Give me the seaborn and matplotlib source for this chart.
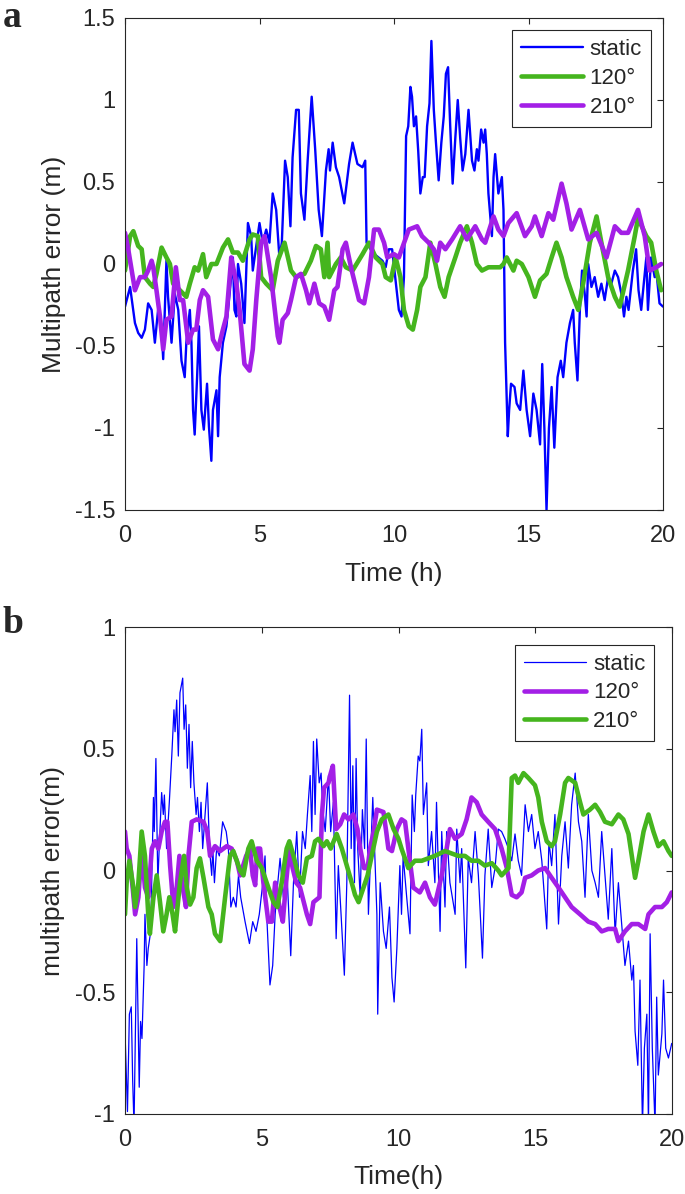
import matplotlib
matplotlib.use('Agg')
import matplotlib.pyplot as plt
import pandas as pd
import seaborn as sns
from matplotlib.ticker import FuncFormatter

# panel a: (time h, error m)
a_static = [(0, -0.26), (0.19, -0.14), (0.37, -0.36), (0.49, -0.42), (0.62, -0.45), (0.74, -0.40), (0.86, -0.24),
            (0.99, -0.28), (1.11, -0.48), (1.23, -0.28), (1.36, -0.40), (1.42, -0.58), (1.48, -0.28), (1.54, 0.02),
            (1.6, -0.2), (1.73, -0.48), (1.85, -0.18), (1.98, -0.28), (2.1, -0.59), (2.22, -0.69), (2.28, -0.48),
            (2.41, -0.28), (2.47, -0.48), (2.53, -0.89), (2.59, -1.04), (2.68, -0.69), (2.75, -0.38), (2.84, -0.89),
            (2.93, -1.01), (3.05, -0.73), (3.12, -0.99), (3.21, -1.2), (3.27, -0.89), (3.4, -0.77), (3.46, -1.05),
            (3.52, -0.69), (3.64, -0.48), (3.77, -0.38), (3.89, -0.18), (4.01, 0.04), (4.07, -0.28), (4.14, -0.32),
            (4.2, 0.0), (4.32, -0.12), (4.44, -0.36), (4.57, 0.25), (4.69, 0.17), (4.75, -0.04), (5.0, 0.25),
            (5.12, 0.13), (5.25, 0.21), (5.37, 0.13), (5.49, 0.43), (5.62, 0.33), (5.74, 0.04), (5.83, 0.13),
            (5.95, 0.63), (6.05, 0.53), (6.15, 0.23), (6.23, 0.65), (6.36, 0.94), (6.46, 0.94), (6.54, 0.43),
            (6.67, 0.27), (6.79, 0.63), (6.94, 1.02), (7.07, 0.7), (7.2, 0.33), (7.32, 0.17), (7.47, 0.57),
            (7.57, 0.7), (7.62, 0.57), (7.72, 0.74), (7.84, 0.59), (7.96, 0.53), (8.15, 0.37), (8.33, 0.61),
            (8.46, 0.74), (8.64, 0.61), (8.83, 0.59), (8.93, 0.63), (8.98, 0.13), (9.2, 0.07), (9.57, 0.02),
            (9.69, -0.02), (9.81, 0.09), (9.93, 0.09), (10.18, -0.28), (10.28, -0.32), (10.37, -0.08), (10.45, 0.78),
            (10.53, 0.84), (10.61, 1.08), (10.67, 1.02), (10.74, 0.84), (10.82, 0.9), (10.9, 0.69), (10.98, 0.43),
            (11.07, 0.53), (11.14, 0.53), (11.23, 0.84), (11.32, 0.98), (11.39, 1.36), (11.48, 0.94), (11.56, 0.74),
            (11.66, 0.51), (11.76, 0.74), (11.85, 0.9), (11.93, 1.16), (12.01, 1.2), (12.09, 0.84), (12.18, 0.49),
            (12.28, 0.77), (12.37, 1.0), (12.46, 0.77), (12.55, 0.57), (12.65, 0.67), (12.77, 0.94), (12.9, 0.63),
            (12.99, 0.57), (13.08, 0.7), (13.14, 0.63), (13.24, 0.82), (13.33, 0.74), (13.39, 0.82), (13.45, 0.67),
            (13.51, 0.43), (13.58, 0.29), (13.64, 0.17), (13.7, 0.53), (13.76, 0.67), (13.88, 0.43), (14.01, 0.53),
            (14.07, 0.33), (14.13, -0.48), (14.23, -1.05), (14.28, -0.89), (14.35, -0.73), (14.48, -0.75),
            (14.56, -0.85), (14.69, -0.89), (14.81, -0.65), (14.93, -0.89), (15.06, -1.05), (15.18, -0.79),
            (15.3, -0.89), (15.43, -1.1), (15.51, -0.61), (15.59, -1.0), (15.67, -1.5), (15.76, -1.0), (15.86, -0.75),
            (15.96, -1.12), (16.08, -0.69), (16.2, -0.59), (16.29, -0.69), (16.41, -0.48), (16.54, -0.36),
            (16.66, -0.28), (16.72, -0.48), (16.82, -0.71), (16.91, -0.28), (16.99, -0.04), (17.09, -0.18),
            (17.16, -0.32), (17.22, 0.0), (17.34, -0.14), (17.46, -0.08), (17.59, -0.2), (17.71, -0.12),
            (17.83, -0.22), (17.96, -0.08), (18.08, -0.12), (18.21, -0.04), (18.33, -0.08), (18.45, -0.18),
            (18.55, -0.32), (18.64, -0.2), (18.72, -0.28), (18.88, -0.04), (19.0, 0.09), (19.09, -0.16),
            (19.19, -0.28), (19.25, -0.18), (19.38, 0.04), (19.44, -0.28), (19.56, 0.04), (19.69, -0.08),
            (19.75, -0.04), (19.87, -0.24), (20.0, -0.26)]

a_120 = [(0, -0.04), (0.19, 0.17), (0.31, 0.2), (0.49, 0.11), (0.62, 0.09), (0.74, -0.08), (0.93, -0.12),
         (1.05, -0.14), (1.17, -0.06), (1.36, 0.1), (1.54, 0.04), (1.67, 0.0), (1.79, -0.12), (2.04, -0.16),
         (2.28, -0.2), (2.41, -0.12), (2.59, -0.02), (2.72, -0.04), (2.9, 0.06), (3.02, -0.08), (3.21, 0.0),
         (3.4, 0.0), (3.64, 0.1), (3.83, 0.15), (4.01, 0.07), (4.2, 0.07), (4.38, 0.02), (4.63, 0.15), (4.75, 0.18),
         (4.94, 0.17), (5.06, -0.08), (5.25, -0.12), (5.49, -0.16), (5.68, 0.02), (5.93, 0.13), (6.17, -0.04),
         (6.36, -0.08), (6.67, -0.06), (6.91, 0.02), (7.1, 0.11), (7.28, 0.09), (7.41, -0.08), (7.53, 0.13),
         (7.59, -0.08), (7.84, 0.0), (8.02, 0.04), (8.21, -0.02), (8.46, -0.04), (8.83, 0.06), (9.07, 0.13),
         (9.32, 0.04), (9.57, 0.0), (9.69, -0.08), (9.88, -0.1), (10.06, 0.04), (10.24, -0.08), (10.37, -0.28),
         (10.55, -0.38), (10.7, -0.4), (10.86, -0.28), (10.98, -0.14), (11.17, -0.08), (11.35, 0.13), (11.54, 0.0),
         (11.72, -0.14), (11.88, -0.2), (12.03, -0.08), (12.28, 0.04), (12.46, 0.13), (12.71, 0.23), (12.9, 0.13),
         (13.08, 0.0), (13.27, -0.04), (13.51, -0.02), (13.76, -0.02), (13.95, -0.02), (14.07, 0.0), (14.19, 0.04),
         (14.44, -0.04), (14.56, 0.02), (14.75, 0.0), (15.0, -0.08), (15.24, -0.2), (15.43, -0.1), (15.67, -0.06),
         (15.86, 0.04), (16.04, 0.13), (16.23, 0.04), (16.41, -0.08), (16.66, -0.2), (16.85, -0.28), (17.03, -0.12),
         (17.28, 0.13), (17.53, 0.29), (17.71, 0.13), (17.96, -0.08), (18.21, -0.2), (18.39, -0.26), (18.7, -0.04),
         (18.95, 0.17), (19.07, 0.28), (19.38, 0.17), (19.56, 0.13), (19.75, -0.04), (19.93, -0.16)]

a_210 = [(0, 0.19), (0.12, 0.09), (0.37, -0.16), (0.56, -0.08), (0.74, -0.08), (0.86, -0.04), (0.99, 0.02),
         (1.05, -0.02), (1.17, -0.16), (1.3, -0.32), (1.42, -0.52), (1.54, -0.34), (1.73, -0.32), (1.89, -0.02),
         (2.04, -0.22), (2.16, -0.22), (2.35, -0.48), (2.53, -0.4), (2.65, -0.4), (2.78, -0.22), (2.9, -0.16),
         (3.09, -0.2), (3.27, -0.46), (3.46, -0.52), (3.64, -0.4), (3.77, -0.32), (3.95, 0.04), (4.14, -0.12),
         (4.26, -0.28), (4.44, -0.61), (4.63, -0.65), (4.75, -0.52), (4.88, -0.22), (5.06, 0.13), (5.19, 0.17),
         (5.43, -0.08), (5.68, -0.44), (5.74, -0.48), (5.86, -0.34), (6.05, -0.3), (6.17, -0.22), (6.36, -0.08),
         (6.54, -0.06), (6.73, -0.16), (6.85, -0.24), (7.04, -0.12), (7.22, -0.24), (7.41, -0.26), (7.59, -0.34),
         (7.78, -0.16), (7.9, -0.14), (8.09, 0.09), (8.21, 0.13), (8.4, -0.02), (8.7, -0.22), (8.89, -0.24),
         (9.07, -0.08), (9.26, 0.21), (9.44, 0.21), (9.63, 0.13), (9.75, 0.04), (10.0, 0.06), (10.18, 0.04),
         (10.55, 0.21), (10.86, 0.23), (11.04, 0.17), (11.29, 0.13), (11.48, 0.09), (11.6, 0.02), (11.72, 0.13),
         (11.91, 0.09), (12.16, 0.15), (12.46, 0.23), (12.71, 0.15), (13.02, 0.23), (13.27, 0.15), (13.39, 0.13),
         (13.7, 0.29), (13.88, 0.21), (14.07, 0.17), (14.25, 0.25), (14.56, 0.31), (14.87, 0.17), (15.12, 0.23),
         (15.24, 0.29), (15.49, 0.17), (15.74, 0.31), (15.92, 0.27), (16.23, 0.49), (16.41, 0.37), (16.6, 0.21),
         (16.91, 0.33), (17.22, 0.15), (17.53, 0.19), (17.9, 0.04), (18.21, 0.23), (18.45, 0.19), (18.7, 0.19),
         (19.07, 0.33), (19.32, 0.17), (19.5, -0.04), (19.75, -0.02), (19.93, 0.0)]

# panel b
b_static = [(0, -0.66), (0.09, -0.99), (0.16, -0.59), (0.23, -0.56), (0.28, -0.86), (0.33, -1.05), (0.43, -0.28),
            (0.52, -0.89), (0.57, -0.62), (0.62, -0.69), (0.7, -0.39), (0.73, -0.18), (0.8, -0.39), (0.85, -0.32),
            (0.94, -0.25), (1.04, 0.3), (1.07, 0.16), (1.13, 0.46), (1.2, -0.05), (1.26, 0.12), (1.34, 0.32),
            (1.4, 0.23), (1.44, 0.31), (1.52, 0.09), (1.62, 0.28), (1.71, 0.47), (1.79, 0.66), (1.83, 0.57),
            (1.89, 0.7), (1.95, 0.47), (2.01, 0.73), (2.11, 0.79), (2.16, 0.58), (2.22, 0.68), (2.28, 0.42),
            (2.34, 0.6), (2.4, 0.34), (2.46, 0.53), (2.52, 0.36), (2.6, 0.23), (2.65, 0.3), (2.72, 0.16),
            (2.78, 0.28), (2.84, 0.09), (3.01, 0.36), (3.09, 0.09), (3.17, -0.02), (3.21, 0.09), (3.27, -0.05),
            (3.35, 0.09), (3.45, 0.06), (3.57, 0.2), (3.7, 0.16), (3.78, 0.09), (3.87, -0.15), (3.96, -0.11),
            (4.06, -0.15), (4.15, -0.02), (4.23, -0.11), (4.39, -0.21), (4.55, -0.3), (4.67, -0.21), (4.79, -0.25),
            (4.91, -0.18), (5.04, -0.05), (5.12, 0.06), (5.18, -0.18), (5.3, -0.47), (5.4, -0.39), (5.49, -0.18),
            (5.57, -0.07), (5.67, 0.05), (5.79, -0.11), (5.91, 0.02), (6.06, -0.35), (6.16, -0.05), (6.28, 0.16),
            (6.38, -0.11), (6.49, 0.16), (6.59, 0.09), (6.67, 0.23), (6.77, 0.39), (6.83, 0.16), (6.89, 0.53),
            (6.95, 0.23), (7.01, 0.54), (7.1, 0.36), (7.17, 0.4), (7.23, 0.25), (7.32, 0.16), (7.44, 0.39),
            (7.52, 0.16), (7.62, 0.28), (7.72, -0.28), (7.8, 0.02), (7.9, -0.18), (8.02, -0.43), (8.11, -0.05),
            (8.21, 0.72), (8.27, 0.09), (8.33, 0.43), (8.39, -0.05), (8.45, 0.46), (8.51, 0.09), (8.6, -0.11),
            (8.68, 0.25), (8.76, 0.09), (8.82, 0.54), (8.9, -0.18), (9.06, 0.3), (9.21, -0.18), (9.24, -0.59),
            (9.33, -0.05), (9.45, -0.25), (9.55, -0.32), (9.67, -0.15), (9.76, -0.44), (9.84, -0.54), (9.94, -0.32),
            (10.05, 0.02), (10.11, -0.18), (10.17, 0.06), (10.3, -0.11), (10.42, -0.26), (10.5, 0.31), (10.58, 0.16),
            (10.63, 0.31), (10.72, 0.47), (10.78, 0.45), (10.85, 0.58), (10.91, 0.23), (11.03, 0.36), (11.09, 0.02),
            (11.21, 0.16), (11.33, -0.05), (11.39, 0.28), (11.52, -0.25), (11.58, 0.16), (11.7, -0.15),
            (11.76, 0.16), (11.88, -0.05), (12.07, -0.18), (12.13, 0.17), (12.25, -0.05), (12.31, 0.09),
            (12.46, -0.4), (12.55, 0.05), (12.67, -0.05), (12.8, 0.16), (12.92, -0.02), (13.07, -0.36),
            (13.16, -0.02), (13.28, 0.17), (13.41, -0.07), (13.53, 0.01), (13.65, 0.17), (13.77, 0.16),
            (13.89, 0.13), (14.02, 0.09), (14.14, 0.04), (14.26, 0.15), (14.38, 0.04), (14.5, -0.02), (14.63, 0.27),
            (14.75, 0.16), (14.87, 0.23), (14.99, 0.09), (15.11, 0.16), (15.24, 0.04), (15.42, -0.24), (15.5, 0.12),
            (15.6, 0.02), (15.72, 0.23), (15.85, -0.22), (15.97, 0.06), (16.09, 0.2), (16.21, 0.01), (16.33, 0.27),
            (16.46, 0.4), (16.58, 0.2), (16.7, 0.12), (16.82, -0.11), (16.94, 0.23), (17.07, 0.0), (17.19, -0.05),
            (17.31, -0.11), (17.43, 0.16), (17.55, -0.02), (17.67, -0.2), (17.8, 0.09), (17.92, -0.26),
            (18.04, -0.05), (18.16, -0.22), (18.28, -0.39), (18.41, -0.29), (18.53, -0.45), (18.59, -0.39),
            (18.65, -0.66), (18.75, -0.8), (18.83, -0.45), (18.92, -1.05), (18.99, -0.73), (19.08, -0.59),
            (19.14, -1.05), (19.2, -0.26), (19.28, -0.73), (19.38, -1.05), (19.44, -0.52), (19.5, -0.84),
            (19.63, -0.67), (19.69, -0.45), (19.77, -0.73), (19.87, -0.77), (19.99, -0.71)]

b_120 = [(0, 0.16), (0.06, 0.09), (0.16, 0.06), (0.28, -0.07), (0.37, -0.18), (0.49, -0.11), (0.61, 0.09),
         (0.73, -0.07), (0.85, -0.11), (0.98, 0.09), (1.1, 0.12), (1.22, 0.09), (1.34, 0.16), (1.46, 0.2),
         (1.55, 0.2), (1.65, 0.02), (1.77, -0.15), (1.89, -0.07), (1.99, 0.06), (2.11, -0.07), (2.23, -0.15),
         (2.32, 0.06), (2.44, 0.2), (2.62, 0.21), (2.87, 0.2), (3.01, 0.16), (3.11, 0.06), (3.29, 0.1), (3.48, 0.08),
         (3.72, 0.1), (3.9, 0.09), (4.09, 0.04), (4.21, -0.02), (4.43, 0.06), (4.57, 0.09), (4.67, -0.02),
         (4.76, -0.06), (4.84, 0.09), (4.94, 0.09), (5.06, -0.05), (5.24, -0.21), (5.37, -0.21), (5.49, -0.05),
         (5.65, -0.15), (5.77, -0.21), (5.89, -0.05), (6.01, 0.09), (6.13, 0.01), (6.26, -0.05), (6.4, -0.07),
         (6.65, -0.18), (6.77, -0.22), (6.89, -0.13), (7.11, -0.11), (7.2, 0.23), (7.28, 0.34), (7.44, 0.36),
         (7.5, 0.39), (7.6, 0.43), (7.72, 0.17), (7.87, 0.19), (8.01, 0.23), (8.17, 0.21), (8.35, 0.23),
         (8.5, 0.17), (8.6, 0.09), (8.74, 0.01), (8.87, 0.01), (8.96, 0.09), (9.09, 0.16), (9.21, 0.25),
         (9.45, 0.24), (9.55, 0.16), (9.63, 0.09), (9.76, 0.08), (9.94, 0.17), (10.11, 0.21), (10.24, 0.2),
         (10.36, 0.09), (10.54, -0.07), (10.78, -0.09), (10.97, -0.05), (11.15, -0.11), (11.33, -0.14),
         (11.58, -0.02), (11.76, 0.09), (11.88, 0.17), (12.07, 0.13), (12.31, 0.15), (12.49, 0.21), (12.67, 0.3),
         (12.86, 0.28), (13.04, 0.23), (13.28, 0.2), (13.53, 0.17), (13.77, 0.09), (13.96, 0.01), (14.14, -0.1),
         (14.32, -0.11), (14.5, -0.09), (14.63, -0.03), (14.87, -0.02), (15.11, 0.0), (15.36, 0.01),
         (15.6, -0.03), (15.85, -0.07), (16.09, -0.11), (16.33, -0.15), (16.64, -0.18), (16.94, -0.21),
         (17.19, -0.22), (17.43, -0.25), (17.67, -0.24), (17.92, -0.24), (18.04, -0.29), (18.28, -0.25),
         (18.53, -0.22), (18.77, -0.22), (19.02, -0.24), (19.14, -0.18), (19.38, -0.15), (19.63, -0.15),
         (19.81, -0.13), (19.99, -0.09)]

b_210 = [(0, -0.18), (0.06, -0.05), (0.16, 0.04), (0.28, -0.05), (0.37, -0.15), (0.49, -0.05), (0.61, 0.16),
         (0.73, 0.06), (0.85, -0.18), (0.91, -0.26), (1.04, -0.11), (1.16, -0.02), (1.28, -0.13), (1.4, -0.25),
         (1.52, -0.18), (1.62, -0.11), (1.74, -0.18), (1.83, -0.25), (2.01, -0.05), (2.16, 0.06), (2.26, -0.07),
         (2.38, -0.14), (2.5, -0.11), (2.62, 0.01), (2.74, 0.05), (2.87, -0.03), (3.05, -0.15), (3.17, -0.18),
         (3.29, -0.26), (3.48, -0.29), (3.66, -0.11), (3.84, 0.06), (3.96, 0.08), (4.21, 0.0), (4.33, -0.02),
         (4.51, 0.09), (4.63, 0.12), (4.82, 0.04), (5.0, 0.01), (5.18, -0.05), (5.43, -0.13), (5.57, -0.15),
         (5.73, -0.05), (5.91, 0.09), (6.01, 0.12), (6.16, 0.06), (6.34, -0.02), (6.5, -0.05), (6.65, 0.05),
         (6.83, 0.06), (6.95, 0.12), (7.07, 0.13), (7.26, 0.1), (7.38, 0.12), (7.52, 0.09), (7.74, 0.15),
         (7.93, 0.09), (8.11, 0.02), (8.29, -0.05), (8.41, -0.1), (8.54, -0.13), (8.72, -0.07), (8.87, -0.02),
         (9.02, 0.06), (9.21, 0.16), (9.39, 0.21), (9.63, 0.23), (9.82, 0.17), (10.0, 0.13), (10.11, 0.09),
         (10.36, 0.01), (10.6, 0.04), (10.85, 0.04), (11.09, 0.05), (11.33, 0.06), (11.7, 0.08), (11.94, 0.07),
         (12.19, 0.06), (12.43, 0.06), (12.67, 0.04), (12.92, 0.04), (13.16, 0.02), (13.41, 0.03), (13.65, 0.0),
         (13.77, -0.02), (14.02, 0.01), (14.14, 0.38), (14.26, 0.39), (14.38, 0.36), (14.57, 0.4), (14.75, 0.38),
         (14.99, 0.35), (15.11, 0.3), (15.24, 0.2), (15.42, 0.12), (15.6, 0.1), (15.72, 0.12), (15.91, 0.23),
         (16.09, 0.36), (16.21, 0.38), (16.46, 0.36), (16.64, 0.28), (16.76, 0.23), (17.0, 0.25), (17.19, 0.27),
         (17.37, 0.24), (17.55, 0.2), (17.8, 0.19), (18.04, 0.23), (18.22, 0.21), (18.41, 0.15), (18.53, 0.06),
         (18.65, -0.03), (18.77, 0.04), (18.96, 0.16), (19.14, 0.23), (19.32, 0.16), (19.5, 0.1), (19.69, 0.12),
         (19.87, 0.08), (19.99, 0.06)]

x_ticks = [0, 5, 10, 15, 20]
a_yticks = [-1.5, -1, -0.5, 0, 0.5, 1, 1.5]
b_yticks = [-1, -0.5, 0, 0.5, 1]

BLUE = '#0000FF'
GREEN = '#45B51E'
PURPLE = '#A31FE6'
EDGE = '#262626'

sns.set_theme(style='white')
plt.rcParams['font.family'] = ['Liberation Sans', 'DejaVu Sans']
plt.rcParams['axes.unicode_minus'] = False
plt.rcParams['axes.edgecolor'] = EDGE
plt.rcParams['axes.linewidth'] = 0.8


def draw(ax, series, ylim, yticks, ylabel, xlabel, xlab_y, leg_pad):
    for pts, color, lw, name in series:
        df = pd.DataFrame(pts, columns=['t', 'v'])
        sns.lineplot(data=df, x='t', y='v', ax=ax, color=color, lw=lw, label=name,
                     estimator=None, sort=False)
    ax.set_xlim(0, 20)
    ax.set_ylim(*ylim)
    ax.set_xticks(x_ticks)
    ax.set_yticks(yticks)
    ax.yaxis.set_major_formatter(FuncFormatter(lambda v, p: f'{v:g}'))
    ax.tick_params(direction='in', top=True, right=True, length=4, width=0.8, color=EDGE,
                   labelsize=17, labelcolor='#262626')
    ax.tick_params(axis='x', pad=11)
    ax.tick_params(axis='y', pad=7)
    for s in ax.spines.values():
        s.set_visible(True)
        s.set_color(EDGE)
    ax.set_xlabel(xlabel, fontsize=19, color='#262626')
    ax.set_ylabel(ylabel, fontsize=19, color='#262626')
    ax.xaxis.set_label_coords(0.5, xlab_y)
    ax.yaxis.set_label_coords(-0.11, 0.5)
    leg = ax.legend(loc='upper right', fancybox=False, edgecolor=EDGE, framealpha=1, fontsize=16,
                    handlelength=2.8, handletextpad=0.3, labelspacing=0.35, borderpad=0.4,
                    borderaxespad=leg_pad)
    leg.get_frame().set_linewidth(0.8)


fig = plt.figure(figsize=(6.85, 11.94), dpi=100)
ax1 = fig.add_axes([125 / 685, 1 - 510 / 1194, 538 / 685, 492 / 1194])
ax2 = fig.add_axes([125 / 685, 1 - 1114 / 1194, 547 / 685, 487 / 1194])

draw(ax1, [(a_static, BLUE, 1.7, 'static'), (a_120, GREEN, 3.3, '120°'), (a_210, PURPLE, 3.3, '210°')],
     (-1.5, 1.5), a_yticks, 'Multipath error (m)', 'Time (h)', -0.105, 0.55)
draw(ax2, [(b_static, BLUE, 0.9, 'static'), (b_120, PURPLE, 3.3, '120°'), (b_210, GREEN, 3.3, '210°')],
     (-1, 1), b_yticks, 'multipath error(m)', 'Time(h)', -0.104, 0.8)

fig.text(0.004, 1 - 27 / 1194, 'a', fontsize=27, fontweight='bold', family='Liberation Serif', va='baseline')
fig.text(0.004, 1 - 633 / 1194, 'b', fontsize=27, fontweight='bold', family='Liberation Serif', va='baseline')

fig.savefig('out.png', dpi=100)
